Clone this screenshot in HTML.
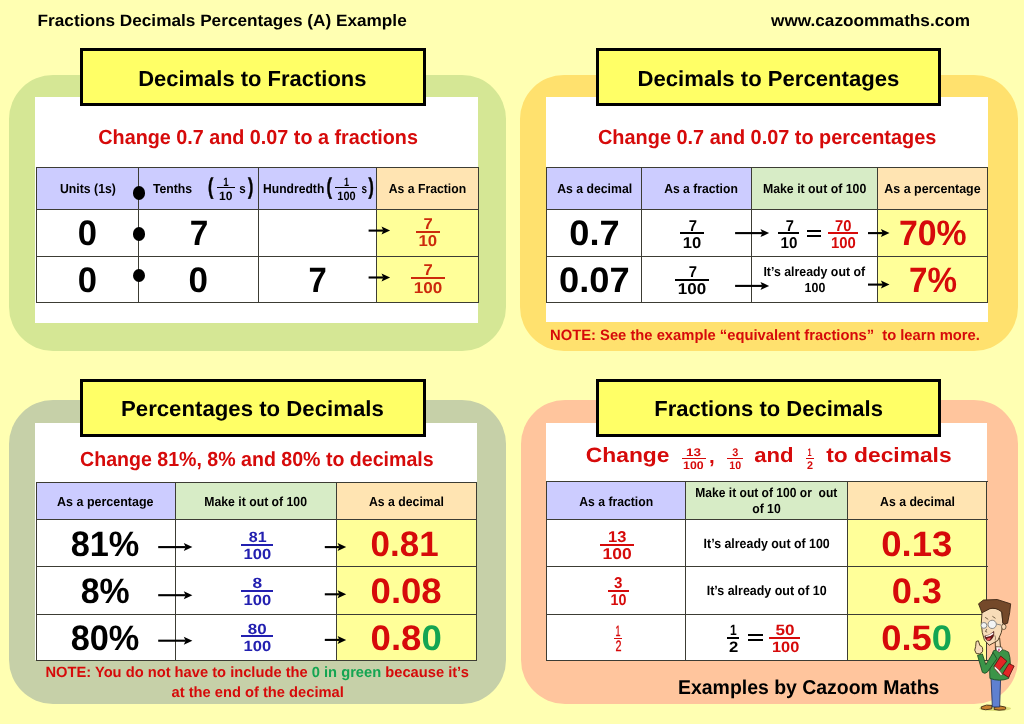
<!DOCTYPE html>
<html><head><meta charset="utf-8"><title>Fractions Decimals Percentages (A) Example</title>
<style>
html,body{margin:0;padding:0}
body{width:1024px;height:724px;position:relative;overflow:hidden;background:#ffffb2;font-family:"Liberation Sans",sans-serif;font-weight:bold}
svg{position:absolute;left:0;top:0;overflow:visible}
svg.tx{will-change:transform;font-family:"Liberation Sans",sans-serif;font-weight:bold;text-rendering:geometricPrecision;white-space:pre}
svg.tx text{white-space:pre}
</style></head><body>
<svg class="tx" width="1024" height="724">
<text font-size="16.55" transform="translate(37.56,26.10) scale(1.0409,1)">Fractions Decimals Percentages (A) Example</text>
<text font-size="16.55" transform="translate(771.04,26.10) scale(1.0398,1)">www.cazoommaths.com</text>
</svg>
<div style="position:absolute;left:8.80px;top:74.70px;width:497.60px;height:276.00px;background:#d5e795;border-radius:44px;"></div>
<div style="position:absolute;left:520.20px;top:74.70px;width:498.00px;height:276.00px;background:#ffe16e;border-radius:44px;"></div>
<div style="position:absolute;left:8.80px;top:400.40px;width:497.60px;height:303.40px;background:#c6d0a8;border-radius:44px;"></div>
<div style="position:absolute;left:520.50px;top:400.40px;width:497.70px;height:303.40px;background:#ffc59d;border-radius:44px;"></div>
<div style="position:absolute;left:35.40px;top:96.90px;width:442.20px;height:225.70px;background:#fff;"></div>
<div style="position:absolute;left:545.60px;top:96.90px;width:442.60px;height:225.60px;background:#fff;"></div>
<div style="position:absolute;left:35.40px;top:422.60px;width:441.40px;height:237.90px;background:#fff;"></div>
<div style="position:absolute;left:545.60px;top:422.60px;width:441.90px;height:237.90px;background:#fff;"></div>
<div style="position:absolute;left:80.40px;top:48.40px;width:345.20px;height:58.00px;background:#ffff66;box-sizing:border-box;border:3.2px solid #000;"></div>
<div style="position:absolute;left:596.40px;top:48.40px;width:344.80px;height:58.00px;background:#ffff66;box-sizing:border-box;border:3.2px solid #000;"></div>
<div style="position:absolute;left:80.40px;top:379.00px;width:345.20px;height:58.00px;background:#ffff66;box-sizing:border-box;border:3.2px solid #000;"></div>
<div style="position:absolute;left:596.40px;top:379.00px;width:344.80px;height:58.00px;background:#ffff66;box-sizing:border-box;border:3.2px solid #000;"></div>
<svg class="tx" width="1024" height="724">
<text font-size="21.85" transform="translate(138.19,85.60) scale(1.0055,1)">Decimals to Fractions</text>
<text font-size="21.85" transform="translate(637.49,85.60) scale(1.0126,1)">Decimals to Percentages</text>
<text font-size="21.85" transform="translate(120.98,415.70) scale(1.0161,1)">Percentages to Decimals</text>
<text font-size="21.85" transform="translate(654.19,415.70) scale(1.0077,1)">Fractions to Decimals</text>
<text font-size="20.4" fill="#d60a0a" transform="translate(98.30,144.10) scale(0.9693,1)">Change 0.7 and 0.07 to a fractions</text>
<text font-size="20.4" fill="#d60a0a" transform="translate(598.00,144.10) scale(0.9757,1)">Change 0.7 and 0.07 to percentages</text>
<text font-size="20.4" fill="#d60a0a" transform="translate(80.10,466.20) scale(0.9599,1)">Change 81%, 8% and 80% to decimals</text>
<text font-size="20.61" fill="#d60a0a" transform="translate(585.80,462.20) scale(1.1077,1)">Change</text>
</svg>
<div style="position:absolute;left:681.50px;top:458.00px;width:24.30px;height:1.20px;background:#d60a0a;"></div>
<svg class="tx" width="1024" height="724">
<text font-size="11.03" fill="#d60a0a" transform="translate(685.90,455.90) scale(1.2205,1)">13</text>
<text font-size="11.03" fill="#d60a0a" transform="translate(683.10,468.80) scale(1.1176,1)">100</text>
<text font-size="20.61" fill="#d60a0a" transform="translate(709.00,462.60) scale(1.0000,1)">,</text>
</svg>
<div style="position:absolute;left:726.50px;top:458.00px;width:16.40px;height:1.20px;background:#d60a0a;"></div>
<svg class="tx" width="1024" height="724">
<text font-size="11.03" fill="#d60a0a" transform="translate(732.30,455.90) scale(0.9833,1)">3</text>
<text font-size="11.03" fill="#d60a0a" transform="translate(729.30,468.80) scale(0.9648,1)">10</text>
<text font-size="20.61" fill="#d60a0a" transform="translate(754.20,462.20) scale(1.0735,1)">and</text>
</svg>
<div style="position:absolute;left:805.50px;top:458.00px;width:8.90px;height:1.10px;background:#d60a0a;"></div>
<svg class="tx" width="1024" height="724">
<text font-size="11.03" fill="#d60a0a" transform="translate(807.40,456.40) scale(0.6667,1)">1</text>
<text font-size="11.03" fill="#d60a0a" transform="translate(806.90,468.80) scale(0.9833,1)">2</text>
<text font-size="20.61" fill="#d60a0a" transform="translate(826.20,462.20) scale(1.1060,1)">to decimals</text>
</svg>
<div style="position:absolute;left:36.75px;top:167.40px;width:102.15px;height:41.80px;background:#ccccff;"></div>
<div style="position:absolute;left:138.90px;top:167.40px;width:119.60px;height:41.80px;background:#ccccff;"></div>
<div style="position:absolute;left:258.50px;top:167.40px;width:117.90px;height:41.80px;background:#ccccff;"></div>
<div style="position:absolute;left:376.40px;top:167.40px;width:101.90px;height:41.80px;background:#ffe4b2;"></div>
<div style="position:absolute;left:36.75px;top:209.20px;width:102.15px;height:47.10px;background:#fff;"></div>
<div style="position:absolute;left:138.90px;top:209.20px;width:119.60px;height:47.10px;background:#fff;"></div>
<div style="position:absolute;left:258.50px;top:209.20px;width:117.90px;height:47.10px;background:#fff;"></div>
<div style="position:absolute;left:376.40px;top:209.20px;width:101.90px;height:47.10px;background:#ffff99;"></div>
<div style="position:absolute;left:36.75px;top:256.30px;width:102.15px;height:46.60px;background:#fff;"></div>
<div style="position:absolute;left:138.90px;top:256.30px;width:119.60px;height:46.60px;background:#fff;"></div>
<div style="position:absolute;left:258.50px;top:256.30px;width:117.90px;height:46.60px;background:#fff;"></div>
<div style="position:absolute;left:376.40px;top:256.30px;width:101.90px;height:46.60px;background:#ffff99;"></div>
<div style="position:absolute;left:36.10px;top:166.85px;width:442.85px;height:1.30px;background:#3c3c34;"></div>
<div style="position:absolute;left:36.10px;top:208.85px;width:442.85px;height:1.30px;background:#3c3c34;"></div>
<div style="position:absolute;left:36.10px;top:255.85px;width:442.85px;height:1.30px;background:#3c3c34;"></div>
<div style="position:absolute;left:36.10px;top:301.85px;width:442.85px;height:1.30px;background:#3c3c34;"></div>
<div style="position:absolute;left:35.85px;top:167.40px;width:1.30px;height:135.50px;background:#3c3c34;"></div>
<div style="position:absolute;left:137.85px;top:167.40px;width:1.30px;height:135.50px;background:#3c3c34;"></div>
<div style="position:absolute;left:257.85px;top:167.40px;width:1.30px;height:135.50px;background:#3c3c34;"></div>
<div style="position:absolute;left:375.85px;top:167.40px;width:1.30px;height:135.50px;background:#3c3c34;"></div>
<div style="position:absolute;left:477.85px;top:167.40px;width:1.30px;height:135.50px;background:#3c3c34;"></div>
<div style="position:absolute;left:132.60px;top:185.80px;width:12.60px;height:13.80px;background:#000;border-radius:50%;"></div>
<div style="position:absolute;left:132.60px;top:226.80px;width:12.60px;height:13.80px;background:#000;border-radius:50%;"></div>
<div style="position:absolute;left:132.60px;top:268.70px;width:12.60px;height:13.80px;background:#000;border-radius:50%;"></div>
<svg class="tx" width="1024" height="724">
<text font-size="13.11" transform="translate(60.00,192.70) scale(0.9349,1)">Units (1s)</text>
<text font-size="13.11" transform="translate(152.90,192.70) scale(0.9351,1)">Tenths</text>
<text font-size="13.11" transform="translate(263.00,192.70) scale(0.9252,1)">Hundredth</text>
<text font-size="13.11" transform="translate(388.80,192.70) scale(0.9309,1)">As a Fraction</text>
<text font-size="22.69" stroke="#000" stroke-width="0.5" transform="translate(207.90,194.40) scale(0.7000,1)">(</text>
<text font-size="22.69" stroke="#000" stroke-width="0.5" transform="translate(248.10,194.40) scale(0.7000,1)">)</text>
</svg>
<div style="position:absolute;left:216.70px;top:187.00px;width:18.20px;height:1.30px;background:#000;"></div>
<svg class="tx" width="1024" height="724">
<text font-size="12.07" transform="translate(223.20,185.50) scale(0.8000,1)">1</text>
<text font-size="12.07" transform="translate(219.10,199.50) scale(0.9994,1)">10</text>
<text font-size="13.11" transform="translate(239.30,192.70) scale(0.8857,1)">s</text>
<text font-size="22.69" stroke="#000" stroke-width="0.5" transform="translate(326.49,194.40) scale(0.7143,1)">(</text>
<text font-size="22.69" stroke="#000" stroke-width="0.5" transform="translate(368.60,194.40) scale(0.7000,1)">)</text>
</svg>
<div style="position:absolute;left:335.20px;top:187.00px;width:22.30px;height:1.30px;background:#000;"></div>
<svg class="tx" width="1024" height="724">
<text font-size="12.07" transform="translate(343.90,185.50) scale(0.7571,1)">1</text>
<text font-size="12.07" transform="translate(337.30,199.50) scale(0.9110,1)">100</text>
<text font-size="13.11" transform="translate(361.50,192.70) scale(0.7571,1)">s</text>
<text font-size="35.38" transform="translate(77.82,245.10) scale(0.9778,1)">0</text>
<text font-size="35.38" transform="translate(189.86,245.40) scale(0.9444,1)">7</text>
<text font-size="35.38" transform="translate(77.82,292.10) scale(0.9778,1)">0</text>
<text font-size="35.38" transform="translate(188.61,292.10) scale(0.9889,1)">0</text>
<text font-size="35.38" transform="translate(308.47,292.20) scale(0.9278,1)">7</text>
</svg>
<svg width="1024" height="724"><path d="M368.60 230.60H383.50" stroke="#000" stroke-width="2.1" fill="none"/><path d="M390.10 230.60L381.50 226.60L383.30 230.60L381.50 234.60Z" fill="#000"/></svg>
<svg width="1024" height="724"><path d="M368.60 277.50H383.50" stroke="#000" stroke-width="2.1" fill="none"/><path d="M390.10 277.50L381.50 273.50L383.30 277.50L381.50 281.50Z" fill="#000"/></svg>
<div style="position:absolute;left:415.90px;top:231.00px;width:24.00px;height:1.60px;background:#cc2a0c;"></div>
<svg class="tx" width="1024" height="724">
<text font-size="15.61" fill="#cc2a0c" transform="translate(423.50,229.20) scale(1.0625,1)">7</text>
<text font-size="15.61" fill="#cc2a0c" transform="translate(418.40,246.40) scale(1.0746,1)">10</text>
</svg>
<div style="position:absolute;left:411.30px;top:277.00px;width:33.40px;height:1.60px;background:#cc2a0c;"></div>
<svg class="tx" width="1024" height="724">
<text font-size="15.61" fill="#cc2a0c" transform="translate(423.50,275.30) scale(1.0625,1)">7</text>
<text font-size="15.61" fill="#cc2a0c" transform="translate(413.70,292.50) scale(1.0925,1)">100</text>
</svg>
<div style="position:absolute;left:546.60px;top:167.40px;width:95.00px;height:41.80px;background:#ccccff;"></div>
<div style="position:absolute;left:641.60px;top:167.40px;width:109.70px;height:41.80px;background:#ccccff;"></div>
<div style="position:absolute;left:751.30px;top:167.40px;width:126.30px;height:41.80px;background:#d7ecc6;"></div>
<div style="position:absolute;left:877.60px;top:167.40px;width:109.50px;height:41.80px;background:#ffe4b2;"></div>
<div style="position:absolute;left:546.60px;top:209.20px;width:95.00px;height:47.10px;background:#fff;"></div>
<div style="position:absolute;left:641.60px;top:209.20px;width:109.70px;height:47.10px;background:#fff;"></div>
<div style="position:absolute;left:751.30px;top:209.20px;width:126.30px;height:47.10px;background:#fff;"></div>
<div style="position:absolute;left:877.60px;top:209.20px;width:109.50px;height:47.10px;background:#ffff99;"></div>
<div style="position:absolute;left:546.60px;top:256.30px;width:95.00px;height:46.60px;background:#fff;"></div>
<div style="position:absolute;left:641.60px;top:256.30px;width:109.70px;height:46.60px;background:#fff;"></div>
<div style="position:absolute;left:751.30px;top:256.30px;width:126.30px;height:46.60px;background:#fff;"></div>
<div style="position:absolute;left:877.60px;top:256.30px;width:109.50px;height:46.60px;background:#ffff99;"></div>
<div style="position:absolute;left:545.95px;top:166.85px;width:441.80px;height:1.30px;background:#3c3c34;"></div>
<div style="position:absolute;left:545.95px;top:208.85px;width:441.80px;height:1.30px;background:#3c3c34;"></div>
<div style="position:absolute;left:545.95px;top:255.85px;width:441.80px;height:1.30px;background:#3c3c34;"></div>
<div style="position:absolute;left:545.95px;top:301.85px;width:441.80px;height:1.30px;background:#3c3c34;"></div>
<div style="position:absolute;left:545.85px;top:167.40px;width:1.30px;height:135.50px;background:#3c3c34;"></div>
<div style="position:absolute;left:640.85px;top:167.40px;width:1.30px;height:135.50px;background:#3c3c34;"></div>
<div style="position:absolute;left:750.85px;top:167.40px;width:1.30px;height:135.50px;background:#3c3c34;"></div>
<div style="position:absolute;left:876.85px;top:167.40px;width:1.30px;height:135.50px;background:#3c3c34;"></div>
<div style="position:absolute;left:986.85px;top:167.40px;width:1.30px;height:135.50px;background:#3c3c34;"></div>
<svg class="tx" width="1024" height="724">
<text font-size="13.11" transform="translate(557.20,192.70) scale(0.9345,1)">As a decimal</text>
<text font-size="13.11" transform="translate(664.20,192.70) scale(0.9270,1)">As a fraction</text>
<text font-size="13.11" transform="translate(762.90,192.70) scale(0.9398,1)">Make it out of 100</text>
<text font-size="13.11" transform="translate(884.30,192.70) scale(0.9516,1)">As a percentage</text>
<text font-size="35.38" transform="translate(569.28,245.40) scale(1.0231,1)">0.7</text>
<text font-size="35.38" transform="translate(559.07,292.20) scale(1.0257,1)">0.07</text>
<text font-size="35.38" fill="#d60a0a" transform="translate(898.94,245.20) scale(0.9561,1)">70%</text>
<text font-size="35.38" fill="#d60a0a" transform="translate(908.96,291.90) scale(0.9381,1)">7%</text>
</svg>
<svg width="1024" height="724"><path d="M735.10 233.10H762.50" stroke="#000" stroke-width="2.1" fill="none"/><path d="M769.10 233.10L760.50 229.10L762.30 233.10L760.50 237.10Z" fill="#000"/></svg>
<svg width="1024" height="724"><path d="M735.10 285.90H762.50" stroke="#000" stroke-width="2.1" fill="none"/><path d="M769.10 285.90L760.50 281.90L762.30 285.90L760.50 289.90Z" fill="#000"/></svg>
<svg width="1024" height="724"><path d="M868.00 233.10H882.90" stroke="#000" stroke-width="2.1" fill="none"/><path d="M889.50 233.10L880.90 229.10L882.70 233.10L880.90 237.10Z" fill="#000"/></svg>
<svg width="1024" height="724"><path d="M868.00 284.60H882.90" stroke="#000" stroke-width="2.1" fill="none"/><path d="M889.50 284.60L880.90 280.60L882.70 284.60L880.90 288.60Z" fill="#000"/></svg>
<div style="position:absolute;left:679.60px;top:232.00px;width:24.10px;height:1.60px;background:#000;"></div>
<svg class="tx" width="1024" height="724">
<text font-size="15.61" transform="translate(688.70,230.50) scale(0.9500,1)">7</text>
<text font-size="15.61" transform="translate(682.80,247.60) scale(1.0633,1)">10</text>
</svg>
<div style="position:absolute;left:675.20px;top:279.00px;width:33.40px;height:1.60px;background:#000;"></div>
<svg class="tx" width="1024" height="724">
<text font-size="15.61" transform="translate(688.70,276.70) scale(0.9500,1)">7</text>
<text font-size="15.61" transform="translate(677.80,293.70) scale(1.0887,1)">100</text>
</svg>
<div style="position:absolute;left:778.20px;top:232.00px;width:20.70px;height:1.60px;background:#000;"></div>
<svg class="tx" width="1024" height="724">
<text font-size="15.61" transform="translate(785.80,230.50) scale(0.9375,1)">7</text>
<text font-size="15.61" transform="translate(780.50,247.90) scale(0.9728,1)">10</text>
</svg>
<div style="position:absolute;left:828.00px;top:232.00px;width:29.80px;height:1.60px;background:#d60a0a;"></div>
<svg class="tx" width="1024" height="724">
<text font-size="15.61" fill="#d60a0a" transform="translate(835.00,230.50) scale(0.9445,1)">70</text>
<text font-size="15.61" fill="#d60a0a" transform="translate(830.90,247.90) scale(0.9521,1)">100</text>
</svg>
<div style="position:absolute;left:806.50px;top:230.00px;width:14.40px;height:1.60px;background:#000;"></div>
<div style="position:absolute;left:806.50px;top:235.00px;width:14.40px;height:1.60px;background:#000;"></div>
<svg class="tx" width="1024" height="724">
<text font-size="13.11" transform="translate(763.40,275.80) scale(0.9413,1)">It’s already out of</text>
<text font-size="13.11" transform="translate(804.60,292.30) scale(0.9452,1)">100</text>
<text font-size="14.99" fill="#d60a0a" transform="translate(550.01,339.60) scale(0.9851,1)">NOTE: See the example “equivalent fractions”  to learn more.</text>
</svg>
<div style="position:absolute;left:36.75px;top:482.90px;width:138.65px;height:36.70px;background:#ccccff;"></div>
<div style="position:absolute;left:175.40px;top:482.90px;width:161.00px;height:36.70px;background:#d7ecc6;"></div>
<div style="position:absolute;left:336.40px;top:482.90px;width:140.20px;height:36.70px;background:#ffe4b2;"></div>
<div style="position:absolute;left:36.75px;top:519.60px;width:138.65px;height:47.30px;background:#fff;"></div>
<div style="position:absolute;left:175.40px;top:519.60px;width:161.00px;height:47.30px;background:#fff;"></div>
<div style="position:absolute;left:336.40px;top:519.60px;width:140.20px;height:47.30px;background:#ffff99;"></div>
<div style="position:absolute;left:36.75px;top:566.90px;width:138.65px;height:47.40px;background:#fff;"></div>
<div style="position:absolute;left:175.40px;top:566.90px;width:161.00px;height:47.40px;background:#fff;"></div>
<div style="position:absolute;left:336.40px;top:566.90px;width:140.20px;height:47.40px;background:#ffff99;"></div>
<div style="position:absolute;left:36.75px;top:614.30px;width:138.65px;height:46.20px;background:#fff;"></div>
<div style="position:absolute;left:175.40px;top:614.30px;width:161.00px;height:46.20px;background:#fff;"></div>
<div style="position:absolute;left:336.40px;top:614.30px;width:140.20px;height:46.20px;background:#ffff99;"></div>
<div style="position:absolute;left:36.10px;top:481.85px;width:441.15px;height:1.30px;background:#3c3c34;"></div>
<div style="position:absolute;left:36.10px;top:518.85px;width:441.15px;height:1.30px;background:#3c3c34;"></div>
<div style="position:absolute;left:36.10px;top:565.85px;width:441.15px;height:1.30px;background:#3c3c34;"></div>
<div style="position:absolute;left:36.10px;top:613.85px;width:441.15px;height:1.30px;background:#3c3c34;"></div>
<div style="position:absolute;left:36.10px;top:659.85px;width:441.15px;height:1.30px;background:#3c3c34;"></div>
<div style="position:absolute;left:35.85px;top:482.90px;width:1.30px;height:177.60px;background:#3c3c34;"></div>
<div style="position:absolute;left:174.85px;top:482.90px;width:1.30px;height:177.60px;background:#3c3c34;"></div>
<div style="position:absolute;left:335.85px;top:482.90px;width:1.30px;height:177.60px;background:#3c3c34;"></div>
<div style="position:absolute;left:475.85px;top:482.90px;width:1.30px;height:177.60px;background:#3c3c34;"></div>
<svg class="tx" width="1024" height="724">
<text font-size="13.11" transform="translate(57.10,506.30) scale(0.9516,1)">As a percentage</text>
<text font-size="13.11" transform="translate(204.30,506.30) scale(0.9334,1)">Make it out of 100</text>
<text font-size="13.11" transform="translate(369.00,506.30) scale(0.9345,1)">As a decimal</text>
<text font-size="35.38" transform="translate(70.63,556.10) scale(0.9705,1)">81%</text>
<text font-size="35.38" transform="translate(80.64,602.70) scale(0.9582,1)">8%</text>
<text font-size="35.38" transform="translate(70.63,650.30) scale(0.9705,1)">80%</text>
</svg>
<svg width="1024" height="724"><path d="M158.20 547.10H185.80" stroke="#000" stroke-width="2.1" fill="none"/><path d="M192.40 547.10L183.80 543.10L185.60 547.10L183.80 551.10Z" fill="#000"/></svg>
<svg width="1024" height="724"><path d="M158.20 595.20H185.80" stroke="#000" stroke-width="2.1" fill="none"/><path d="M192.40 595.20L183.80 591.20L185.60 595.20L183.80 599.20Z" fill="#000"/></svg>
<svg width="1024" height="724"><path d="M158.20 640.70H185.80" stroke="#000" stroke-width="2.1" fill="none"/><path d="M192.40 640.70L183.80 636.70L185.60 640.70L183.80 644.70Z" fill="#000"/></svg>
<svg width="1024" height="724"><path d="M324.80 547.10H339.60" stroke="#000" stroke-width="2.1" fill="none"/><path d="M346.20 547.10L337.60 543.10L339.40 547.10L337.60 551.10Z" fill="#000"/></svg>
<svg width="1024" height="724"><path d="M324.80 594.30H339.60" stroke="#000" stroke-width="2.1" fill="none"/><path d="M346.20 594.30L337.60 590.30L339.40 594.30L337.60 598.30Z" fill="#000"/></svg>
<svg width="1024" height="724"><path d="M324.80 639.90H339.60" stroke="#000" stroke-width="2.1" fill="none"/><path d="M346.20 639.90L337.60 635.90L339.40 639.90L337.60 643.90Z" fill="#000"/></svg>
<div style="position:absolute;left:241.20px;top:544.00px;width:31.80px;height:1.60px;background:#2320b0;"></div>
<svg class="tx" width="1024" height="724">
<text font-size="14.78" fill="#2320b0" transform="translate(248.80,541.90) scale(1.0856,1)">81</text>
<text font-size="14.78" fill="#2320b0" transform="translate(243.60,559.10) scale(1.1219,1)">100</text>
</svg>
<div style="position:absolute;left:241.20px;top:590.00px;width:31.80px;height:1.60px;background:#2320b0;"></div>
<svg class="tx" width="1024" height="724">
<text font-size="14.78" fill="#2320b0" transform="translate(252.50,588.10) scale(1.1750,1)">8</text>
<text font-size="14.78" fill="#2320b0" transform="translate(243.60,605.40) scale(1.1219,1)">100</text>
</svg>
<div style="position:absolute;left:241.20px;top:635.00px;width:31.80px;height:1.60px;background:#2320b0;"></div>
<svg class="tx" width="1024" height="724">
<text font-size="14.78" fill="#2320b0" transform="translate(247.80,633.60) scale(1.1473,1)">80</text>
<text font-size="14.78" fill="#2320b0" transform="translate(243.60,650.60) scale(1.1219,1)">100</text>
<text font-size="35.38" fill="#d60a0a" transform="translate(370.61,556.10) scale(0.9870,1)">0.81</text>
<text font-size="35.38" fill="#d60a0a" transform="translate(370.57,602.70) scale(1.0331,1)">0.08</text>
<text font-size="35.38" fill="#d60a0a" transform="translate(370.57,649.80) scale(1.0331,1)">0.8<tspan fill="#14a552">0</tspan></text>
<text font-size="14.78" fill="#d60a0a" transform="translate(45.40,676.80) scale(0.9950,1)">NOTE: You do not have to include the <tspan fill="#14a552">0 in green</tspan> because it’s</text>
<text font-size="14.78" fill="#d60a0a" transform="translate(171.50,696.70) scale(0.9953,1)">at the end of the decimal</text>
</svg>
<div style="position:absolute;left:546.80px;top:481.30px;width:138.80px;height:38.10px;background:#ccccff;"></div>
<div style="position:absolute;left:685.60px;top:481.30px;width:161.90px;height:38.10px;background:#d7ecc6;"></div>
<div style="position:absolute;left:847.50px;top:481.30px;width:139.40px;height:38.10px;background:#ffe4b2;"></div>
<div style="position:absolute;left:546.80px;top:519.40px;width:138.80px;height:47.50px;background:#fff;"></div>
<div style="position:absolute;left:685.60px;top:519.40px;width:161.90px;height:47.50px;background:#fff;"></div>
<div style="position:absolute;left:847.50px;top:519.40px;width:139.40px;height:47.50px;background:#ffff99;"></div>
<div style="position:absolute;left:546.80px;top:566.90px;width:138.80px;height:47.40px;background:#fff;"></div>
<div style="position:absolute;left:685.60px;top:566.90px;width:161.90px;height:47.40px;background:#fff;"></div>
<div style="position:absolute;left:847.50px;top:566.90px;width:139.40px;height:47.40px;background:#ffff99;"></div>
<div style="position:absolute;left:546.80px;top:614.30px;width:138.80px;height:46.20px;background:#fff;"></div>
<div style="position:absolute;left:685.60px;top:614.30px;width:161.90px;height:46.20px;background:#fff;"></div>
<div style="position:absolute;left:847.50px;top:614.30px;width:139.40px;height:46.20px;background:#ffff99;"></div>
<div style="position:absolute;left:546.15px;top:480.85px;width:441.40px;height:1.30px;background:#3c3c34;"></div>
<div style="position:absolute;left:546.15px;top:518.85px;width:441.40px;height:1.30px;background:#3c3c34;"></div>
<div style="position:absolute;left:546.15px;top:565.85px;width:441.40px;height:1.30px;background:#3c3c34;"></div>
<div style="position:absolute;left:546.15px;top:613.85px;width:441.40px;height:1.30px;background:#3c3c34;"></div>
<div style="position:absolute;left:546.15px;top:659.85px;width:441.40px;height:1.30px;background:#3c3c34;"></div>
<div style="position:absolute;left:545.85px;top:481.30px;width:1.30px;height:179.20px;background:#3c3c34;"></div>
<div style="position:absolute;left:684.85px;top:481.30px;width:1.30px;height:179.20px;background:#3c3c34;"></div>
<div style="position:absolute;left:846.85px;top:481.30px;width:1.30px;height:179.20px;background:#3c3c34;"></div>
<div style="position:absolute;left:985.85px;top:481.30px;width:1.30px;height:179.20px;background:#3c3c34;"></div>
<svg class="tx" width="1024" height="724">
<text font-size="13.11" transform="translate(579.30,505.70) scale(0.9295,1)">As a fraction</text>
<text font-size="13.11" transform="translate(695.30,496.90) scale(0.9197,1)">Make it out of 100 or  out</text>
<text font-size="13.11" transform="translate(752.20,513.30) scale(0.9305,1)">of 10</text>
<text font-size="13.11" transform="translate(880.10,505.70) scale(0.9345,1)">As a decimal</text>
</svg>
<div style="position:absolute;left:600.30px;top:544.00px;width:33.70px;height:1.60px;background:#d60a0a;"></div>
<svg class="tx" width="1024" height="724">
<text font-size="15.61" fill="#d60a0a" transform="translate(608.10,542.20) scale(1.0576,1)">13</text>
<text font-size="15.61" fill="#d60a0a" transform="translate(602.50,559.10) scale(1.1190,1)">100</text>
</svg>
<div style="position:absolute;left:608.10px;top:590.00px;width:20.80px;height:1.60px;background:#d60a0a;"></div>
<svg class="tx" width="1024" height="724">
<text font-size="15.61" fill="#d60a0a" transform="translate(613.90,588.40) scale(0.9667,1)">3</text>
<text font-size="15.61" fill="#d60a0a" transform="translate(610.60,605.40) scale(0.9162,1)">10</text>
</svg>
<div style="position:absolute;left:614.40px;top:638.00px;width:7.80px;height:1.20px;background:#d60a0a;"></div>
<svg class="tx" width="1024" height="724">
<text font-size="14.99" fill="#d60a0a" font-weight="normal" stroke="#d60a0a" stroke-width="0.35" transform="translate(615.40,636.20) scale(0.6000,1)">1</text>
<text font-size="14.99" fill="#d60a0a" font-weight="normal" stroke="#d60a0a" stroke-width="0.35" transform="translate(615.40,651.10) scale(0.7250,1)">2</text>
<text font-size="13.43" transform="translate(703.60,548.10) scale(0.9223,1)">It’s already out of 100</text>
<text font-size="13.43" transform="translate(706.70,595.40) scale(0.9277,1)">It’s already out of 10</text>
</svg>
<div style="position:absolute;left:727.40px;top:637.00px;width:11.40px;height:1.60px;background:#000;"></div>
<svg class="tx" width="1024" height="724">
<text font-size="14.99" transform="translate(729.90,635.10) scale(0.8000,1)">1</text>
<text font-size="14.99" transform="translate(728.90,651.70) scale(1.1125,1)">2</text>
</svg>
<div style="position:absolute;left:748.10px;top:634.00px;width:14.50px;height:1.60px;background:#000;"></div>
<div style="position:absolute;left:748.10px;top:639.00px;width:14.50px;height:1.60px;background:#000;"></div>
<div style="position:absolute;left:769.30px;top:637.00px;width:31.00px;height:1.60px;background:#d60a0a;"></div>
<svg class="tx" width="1024" height="724">
<text font-size="14.99" fill="#d60a0a" transform="translate(775.50,635.10) scale(1.1388,1)">50</text>
<text font-size="14.99" fill="#d60a0a" transform="translate(772.00,651.70) scale(1.0905,1)">100</text>
<text font-size="35.38" fill="#d60a0a" transform="translate(881.27,556.10) scale(1.0331,1)">0.13</text>
<text font-size="35.38" fill="#d60a0a" transform="translate(891.68,602.70) scale(1.0231,1)">0.3</text>
<text font-size="35.38" fill="#d60a0a" transform="translate(881.27,649.80) scale(1.0272,1)">0.5<tspan fill="#14a552">0</tspan></text>
<text font-size="19.98" transform="translate(678.03,694.20) scale(0.9733,1)">Examples by Cazoom Maths</text>
</svg>
<svg style="left:954px;top:590px" width="70" height="125.1" viewBox="0 0 405 724">
<ellipse cx="238" cy="686" rx="92" ry="15" fill="#dfe07a"/>
<path d="M158 676q30-16 62-8l-2 20q-40 10-60 0z" fill="#c9822e" stroke="#3a2a14" stroke-width="5"/>
<path d="M234 678q30-14 64 0q6 12-6 15q-32 6-60-2z" fill="#c9822e" stroke="#3a2a14" stroke-width="5"/>
<path d="M214 505l56 0l-6 172l-42 0z" fill="#5f80d0" stroke="#26345c" stroke-width="5"/>
<path d="M238 286l26-8l6 62l-30 6z" fill="#f7dcb8" stroke="#3a2a14" stroke-width="5"/>
<path d="M228 352q42-20 88 8q20 60 0 152q-52 20-108 0q-8-82 20-160z" fill="#3b9448" stroke="#1c4a24" stroke-width="5"/>
<path d="M226 362q-28 48-42 70l-20-62l-28 8l28 98q14 14 30-2l54-76z" fill="#3b9448" stroke="#1c4a24" stroke-width="5"/>
<path d="M128 298l13-4l9 28q20 2 15 36q-14 18-36 10q-16-20-4-40z" fill="#f7dcb8" stroke="#3a2a14" stroke-width="5"/>
<path d="M242 328l34 2l4 16l-18 16l-18-14z" fill="#fff" stroke="#3a2a14" stroke-width="4"/>
<path d="M256 340l9 0l-2 16l-7 0z" fill="#b8306e"/>
<path d="M270 382l36 30l-52 64l-22-34z" fill="#e22626" stroke="#5a1010" stroke-width="5"/>
<path d="M318 426l30 14l-32 66l-34-22z" fill="#e22626" stroke="#5a1010" stroke-width="5"/>
<path d="M236 440l24 22l20 26l-8 8l-40-44z" fill="#f4f0e6" stroke="#5a1010" stroke-width="3"/>
<path d="M162 126L158 192Q160 250 176 290L204 320L254 292Q278 250 284 196L274 110L208 104Z" fill="#f7dcb8" stroke="#3a2a14" stroke-width="5" stroke-linejoin="round"/>
<ellipse cx="288" cy="213" rx="13" ry="16" fill="#f7dcb8" stroke="#3a2a14" stroke-width="4"/>
<path d="M142 80L170 58L250 55L328 80L322 132L310 192L293 198L282 190L277 128Q242 98 208 108L162 132Z" fill="#74492a" stroke="#3a2414" stroke-width="5" stroke-linejoin="round"/>
<path d="M180 158l18 12M222 152l18 12" stroke="#3a2a14" stroke-width="4" fill="none"/>
<circle cx="173" cy="205" r="17" fill="#f2f4f4" stroke="#777" stroke-width="5"/>
<circle cx="221" cy="199" r="24" fill="#f2f4f4" stroke="#777" stroke-width="5"/>
<path d="M245 197l28 6" stroke="#777" stroke-width="5" fill="none"/>
<path d="M190 226l-8 14l10 4" stroke="#3a2a14" stroke-width="4" fill="none"/>
<path d="M178 266q28 2 52-26q4 34-22 52q-24 6-30-26z" fill="#6a1616" stroke="#3a1414" stroke-width="4"/>
<path d="M188 284q14-10 26-8q-4 16-20 18z" fill="#e85050"/>
<path d="M182 266q22 0 44-20l2 8q-20 18-42 18z" fill="#fff"/>
<path d="M236 262q8 14 2 30" stroke="#3a2a14" stroke-width="3" fill="none"/>
</svg>

</body></html>
